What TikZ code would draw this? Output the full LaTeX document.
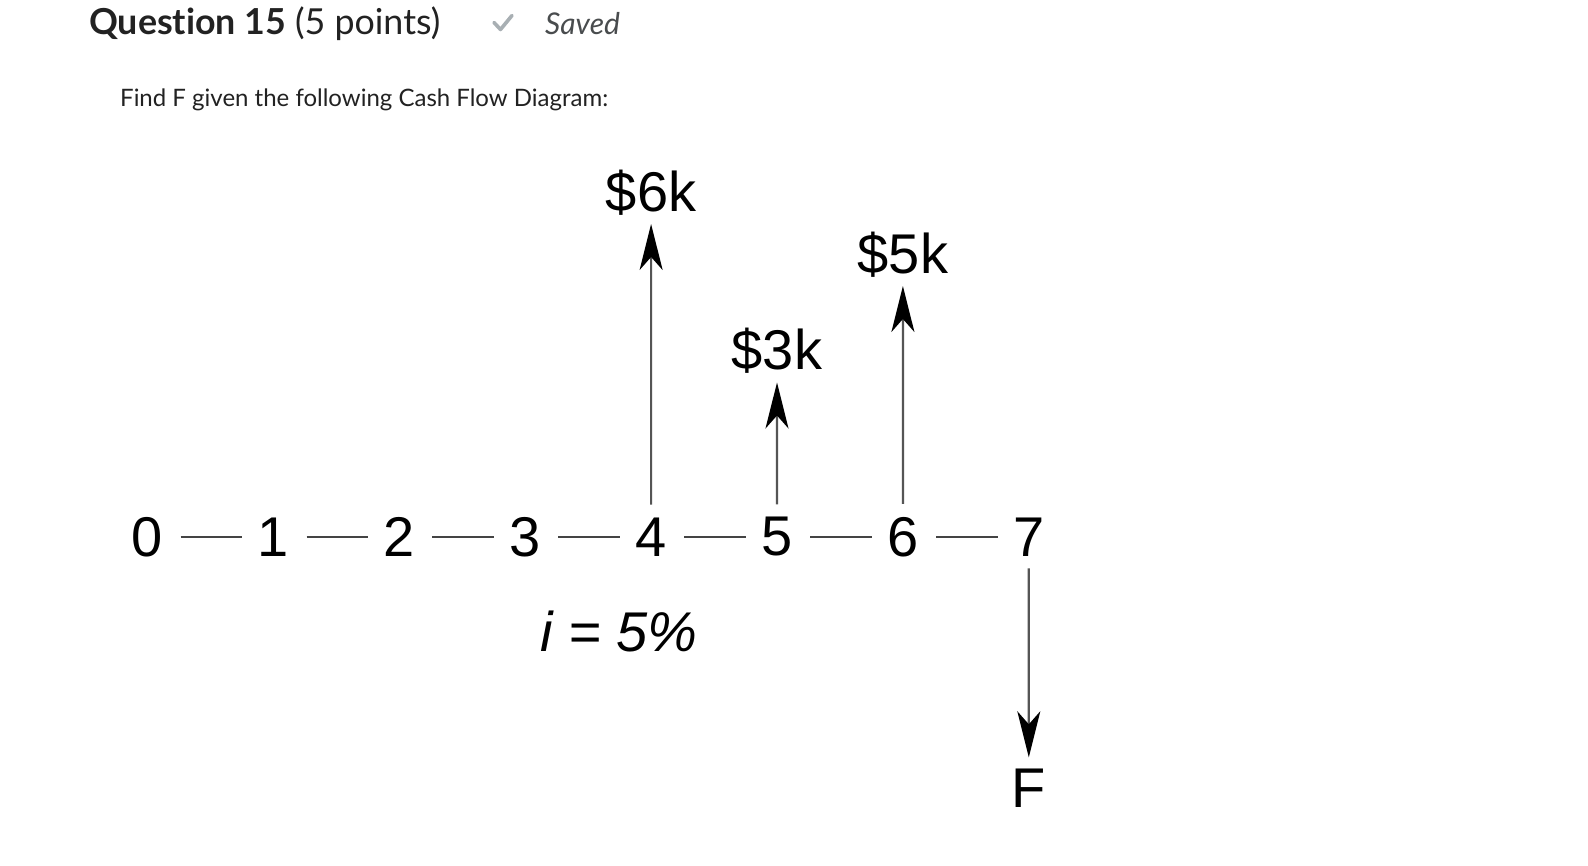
\documentclass[tikz,border=0pt]{standalone}
\usepackage{fontspec}
\setmainfont{Liberation Sans}
\newfontfamily\lato[Ligatures={NoCommon,NoContextual}]{Lato}
\usetikzlibrary{arrows.meta}
\definecolor{hdr}{HTML}{222222}
\definecolor{savedgray}{HTML}{494C4E}
\definecolor{checkgray}{HTML}{A8AFB3}
\definecolor{shaftgray}{HTML}{555555}
\definecolor{dashgray}{HTML}{444444}
\begin{document}
\begin{tikzpicture}[x=1pt,y=-1pt,
  dig/.style={inner sep=0pt,text=black,font=\fontsize{56}{60}\selectfont},
  lab/.style={inner sep=0pt,text=black,font=\fontsize{56}{60}\selectfont},
  dashln/.style={draw=dashgray,line width=1.8pt,shorten <=17.4pt,shorten >=15.4pt},
  flow/.style={draw=shaftgray,line width=2.2pt,
    -{Stealth[length=46pt,width=23pt,inset=13pt,color=black]}},
  hdrtext/.style={inner sep=0pt,anchor=base west}]
\useasboundingbox[fill=white] (0,0) rectangle (1588,866);
% header
\node[hdrtext,text=hdr] (q) at (89,35)
  {\lato\fontsize{35.8}{40}\selectfont\bfseries Question 15 \mdseries(5 points)};
\draw[checkgray,line width=3.6pt,line cap=round,line join=round]
  (494,22.5) -- (500.5,29.5) -- (512,15.5);
\node[hdrtext,text=savedgray] (saved) at (545,35)
  {\lato\itshape\fontsize{30}{36}\selectfont Saved};
\node[hdrtext,text=hdr] (find) at (120,106.5)
  {\lato\fontsize{24}{28}\selectfont Find F given the following Cash Flow Diagram:};
% time line
\foreach \k in {0,...,7}
  \node[dig] (n\k) at ({147.5+125.9*\k},537) {\k};
\foreach \a/\b in {0/1,1/2,2/3,3/4,4/5,5/6,6/7}
  \draw[dashln] (n\a) -- (n\b);
% labels
\node[lab,anchor=base] (l4) at (651.1,211.5) {\$6k};
\node[lab,anchor=base] (l5) at (777.0,370) {\$3k};
\node[lab,anchor=base] (l6) at (902.9,273.5) {\$5k};
\node[lab,anchor=base] (F) at (1028.8,807.5) {F};
\node[lab,anchor=base] (rate) at (619,651) {\itshape i = 5\%};
% cash flows
\draw[flow,shorten <=13pt,shorten >=12.5pt] (n4.north) -- (l4.base);
\draw[flow,shorten <=13pt,shorten >=12.5pt] (n5.north) -- (l5.base);
\draw[flow,shorten <=13pt,shorten >=12.5pt] (n6.north) -- (l6.base);
\draw[flow,shorten <=12pt,shorten >=11.5pt] (n7.south) -- (F.north);
\end{tikzpicture}
\end{document}
